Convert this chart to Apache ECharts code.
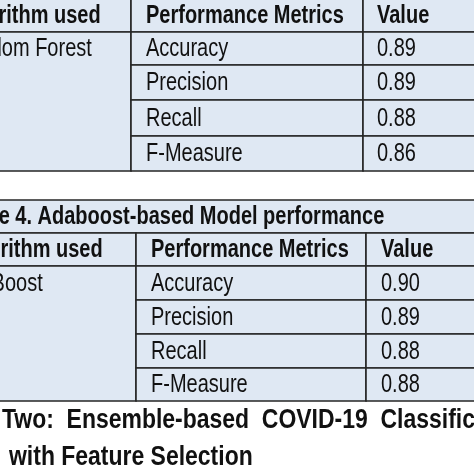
<!DOCTYPE html>
<html><head><meta charset="utf-8">
<script src="https://cdn.jsdelivr.net/npm/echarts@6/dist/echarts.min.js"></script>
<style>html,body{margin:0;padding:0;background:#fff}#main{width:474px;height:474px}</style>
</head><body><div id="main"></div>
<script>
// table content
const headers = ['Algorithm used', 'Performance Metrics', 'Value'];
const metrics = ['Accuracy', 'Precision', 'Recall', 'F-Measure'];
const rfName = 'Random Forest';
const rfValues = [0.89, 0.89, 0.88, 0.86];
const adaName = 'AdaBoost';
const adaValues = [0.90, 0.89, 0.88, 0.88];
const tableTitle = 'Table 4. Adaboost-based Model performance';
const caption = ['Two:  Ensemble-based  COVID-19  Classification', 'with Feature Selection'];

// layout (pixels); narrow look faked with scaleX
const FONT = '"Liberation Sans", Arial, sans-serif';
const FILL = '#dfe8f3', LINE = '#262626';
const SX = 0.8;

let cells = [];
function addTable(cols, rows, textX, name, values) {
  for (let c = 0; c < 3; c++) {
    cells.push({value: [cols[c], rows[0], cols[c + 1], rows[1]], text: headers[c], tx: textX[c], bold: true});
  }
  // merged algorithm column
  cells.push({value: [cols[0], rows[1], cols[1], rows[5]], text: name, tx: textX[0], top: true, rowH: rows[2] - rows[1]});
  for (let i = 0; i < metrics.length; i++) {
    cells.push({value: [cols[1], rows[i + 1], cols[2], rows[i + 2]], text: metrics[i], tx: textX[1]});
    cells.push({value: [cols[2], rows[i + 1], cols[3], rows[i + 2]], text: values[i].toFixed(2), tx: textX[2]});
  }
}
addTable([-200, 131, 363, 490], [-2, 32, 65, 100, 136, 171], [-46, 146, 377], rfName, rfValues);
cells.push({value: [-200, 200, 490, 233], text: tableTitle, tx: -41, bold: true});
addTable([-200, 136, 366, 490], [233, 266, 300, 334, 368, 401], [-44, 151, 381], adaName, adaValues);

let chart = echarts.init(document.getElementById('main'));
chart.setOption({
  animation: false,
  grid: {left: 0, right: 0, top: 0, bottom: 0},
  xAxis: {type: 'value', min: 0, max: 474, show: false},
  yAxis: {type: 'value', min: 0, max: 474, inverse: true, show: false},
  series: [{
    type: 'custom',
    clip: false,
    data: cells,
    renderItem: function (params, api) {
      const d = cells[params.dataIndex];
      const p0 = api.coord([d.value[0], d.value[1]]);
      const p1 = api.coord([d.value[2], d.value[3]]);
      const h = d.top ? d.rowH : p1[1] - p0[1];
      return {
        type: 'group',
        children: [
          {type: 'rect', shape: {x: p0[0], y: p0[1], width: p1[0] - p0[0], height: p1[1] - p0[1]},
           style: {fill: FILL, stroke: LINE, lineWidth: 1.6}},
          {type: 'text', x: api.coord([d.tx, 0])[0], y: p0[1] + h / 2 + 1, scaleX: SX,
           style: {text: d.text, fill: '#111', font: (d.bold ? 'bold ' : '') + '25px ' + FONT, verticalAlign: 'middle'}}
        ]
      };
    }
  }],
  graphic: [
    {type: 'text', x: 2, y: 420, scaleX: 0.82, style: {text: caption[0], fill: '#111', font: 'bold 28px ' + FONT, verticalAlign: 'middle'}},
    {type: 'text', x: 9, y: 457, scaleX: 0.82, style: {text: caption[1], fill: '#111', font: 'bold 28px ' + FONT, verticalAlign: 'middle'}}
  ]
});
</script></body></html>
